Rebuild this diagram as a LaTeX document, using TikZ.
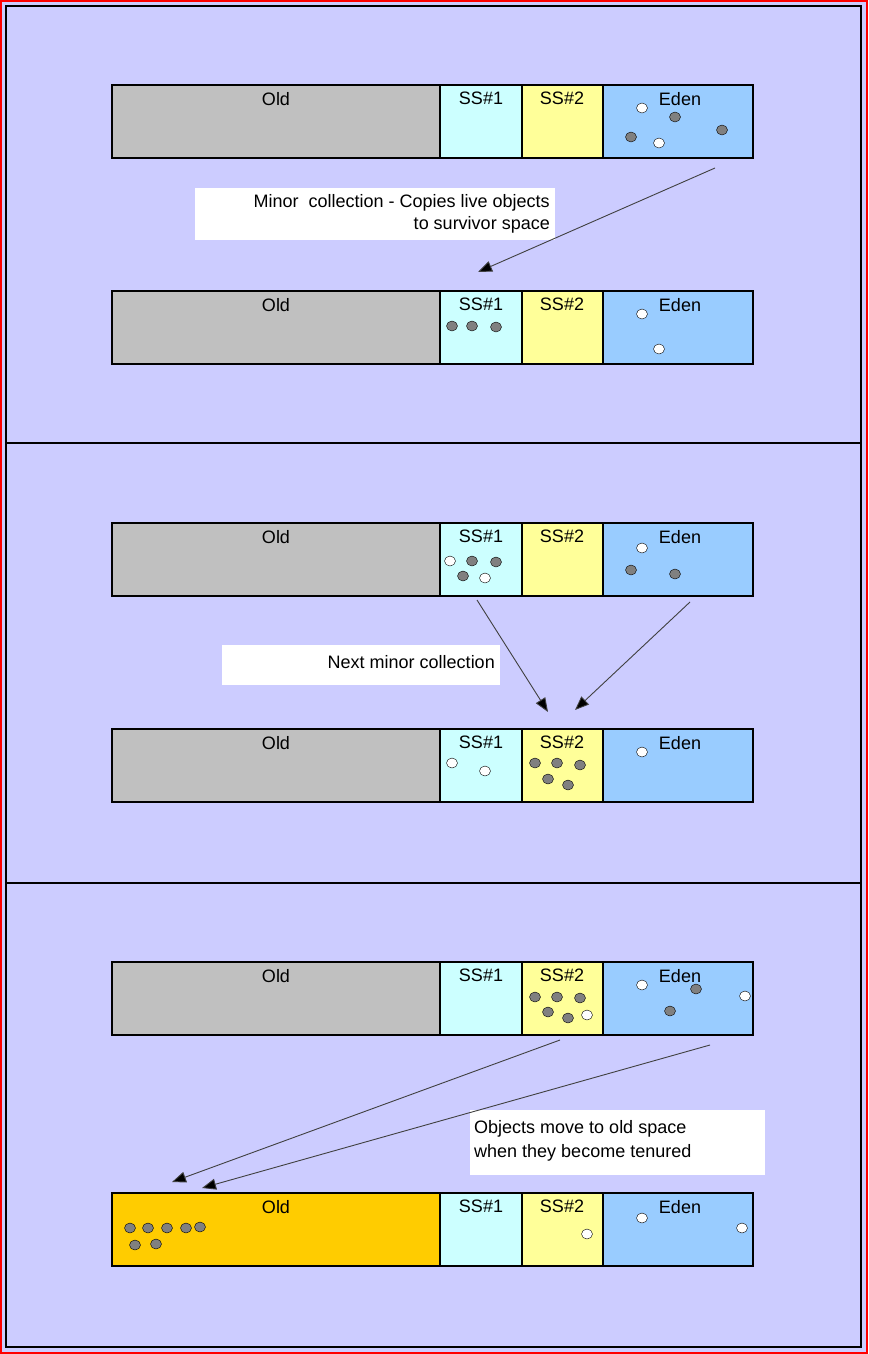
\documentclass[tikz,border=0pt]{standalone}
\usepackage{fontspec}
\setmainfont{Liberation Sans}
\usetikzlibrary{arrows.meta,shapes.geometric}
\definecolor{panelbg}{RGB}{204,204,255}
\definecolor{oldgray}{RGB}{192,192,192}
\definecolor{oldorange}{RGB}{255,204,0}
\definecolor{ssone}{RGB}{204,255,255}
\definecolor{sstwo}{RGB}{255,255,153}
\definecolor{edenblue}{RGB}{153,204,255}
\definecolor{dotgray}{RGB}{128,128,128}
\begin{document}
\begin{tikzpicture}[
    x=1pt, y=-1pt,
    every node/.style={font=\fontsize{18}{22}\selectfont},
    space/.style={draw=black, line width=1.2pt},
    space label/.style={anchor=north, inner sep=0pt},
    live/.style={shape=ellipse, draw=black, fill=dotgray, minimum width=11pt, minimum height=10pt, inner sep=0pt},
    dead/.style={shape=ellipse, draw=black, fill=white, minimum width=11pt, minimum height=10pt, inner sep=0pt},
    note/.style={fill=white, inner sep=0pt},
    normal line/.style={draw=black!75, line width=0.9pt, -{Triangle[length=14pt,width=11pt,fill=black]}},
]
\useasboundingbox (0,0) rectangle (868,1354);
\fill[panelbg] (0,0) rectangle (868,1354);
\draw[red, line width=1.5pt] (1,1) rectangle (867,1353);
\draw[black, line width=1.5pt] (6,6) rectangle (861,1347);
\draw[black, line width=1.5pt] (6,443) -- (861,443);
\draw[black, line width=1.5pt] (6,883) -- (861,883);
% the six heaps
\foreach \n/\top/\oldcol in {1/85/oldgray, 2/291/oldgray, 3/523/oldgray, 4/729/oldgray, 5/962/oldgray, 6/1193/oldorange} {
    \draw[space, fill=\oldcol] (112,\top) rectangle (440,\top+73);
    \draw[space, fill=ssone] (440,\top) rectangle (522,\top+73);
    \draw[space, fill=sstwo] (522,\top) rectangle (603,\top+73);
    \draw[space, fill=edenblue] (603,\top) rectangle (753,\top+73);
    \node[space label] (old-\n) at (276,\top+7) {Old};
    \node[space label] (ss1-\n) at (481,\top+7) {SS\#1};
    \node[space label] (ss2-\n) at (562,\top+7) {SS\#2};
    \node[space label] (eden-\n) at (680,\top+7) {Eden};
}
% objects
\foreach \x/\y in {675/117, 631/137, 722/130,
    452/326, 472/326, 496/327,
    472/561, 496/562, 463/576, 631/570, 675/574,
    535/763, 557/763, 580/765, 548/779, 568/785,
    535/997, 557/997, 580/998, 548/1012, 568/1018, 696/989, 670/1011,
    130/1228, 148/1228, 167/1228, 186/1228, 200/1227, 135/1245, 156/1244}
    \node[live] at (\x,\y) {};
\foreach \x/\y in {642/108, 659/143,
    642/314, 659/349,
    450/561, 485/578, 642/548,
    452/763, 485/771, 642/752,
    587/1015, 642/985, 745/996,
    587/1234, 642/1218, 742/1228}
    \node[dead] at (\x,\y) {};
% notes
\fill[white] (195,188) rectangle (555,240);
\node[note, anchor=north east] (note-1) at (550,192) {\begin{tabular}{@{}r@{}}Minor\ \ collection - Copies live objects\\to survivor space\end{tabular}};
\fill[white] (222,645) rectangle (500,685);
\node[note, anchor=east] (note-2) at (495,662) {Next minor collection};
\fill[white] (470,1110) rectangle (765,1175);
\node[note, anchor=west] (note-3) at (474,1141) {\begin{tabular}{@{}l@{}}Objects move to old space\\[2pt]when they become tenured\end{tabular}};
% copies
\coordinate (from-1) at (715,168);  \coordinate (to-1) at (478,272);
\coordinate (from-2a) at (477,600); \coordinate (to-2a) at (548,712);
\coordinate (from-2b) at (690,602); \coordinate (to-2b) at (575,710);
\coordinate (from-3a) at (560,1040); \coordinate (to-3a) at (172,1182);
\coordinate (from-3b) at (710,1045); \coordinate (to-3b) at (202,1188);
\draw[normal line] (from-1) -- (to-1);
\draw[normal line] (from-2a) -- (to-2a);
\draw[normal line] (from-2b) -- (to-2b);
\draw[normal line] (from-3a) -- (to-3a);
\draw[normal line] (from-3b) -- (to-3b);
\end{tikzpicture}
\end{document}
